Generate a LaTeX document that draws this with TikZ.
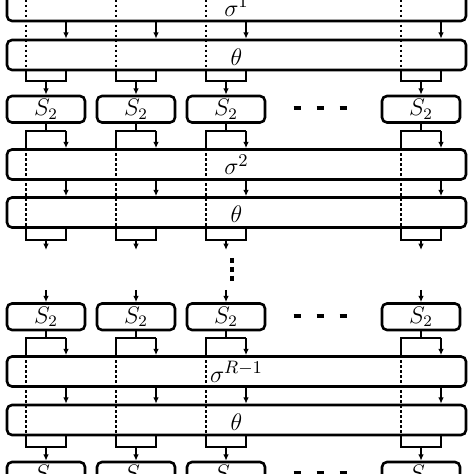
\documentclass[tikz,border=0pt]{standalone}
\usepackage{amsmath}
\usepackage{amssymb}
\usepackage{tikz}
\usepackage{xcolor}
\usetikzlibrary{arrows.meta}

\tikzset{
  bigbox/.style={draw, line width=1.3pt, rounded corners=2.5pt, inner sep=0pt,
    minimum width=229.5pt, minimum height=15pt, text height=10.5pt, text depth=0pt,
    font=\fontsize{12.5}{15}\selectfont},
  sbox/.style={draw, line width=1.3pt, rounded corners=2.5pt, inner sep=0pt,
    minimum width=39pt, minimum height=13.25pt, font=\fontsize{11.5}{13}\selectfont},
  conn/.style={line width=1.1pt},
  arr/.style={conn, -{Latex[length=3.2pt,width=2.8pt]}},
  dotline/.style={line width=1.3pt, dash pattern=on 1.2pt off 1.3pt},
  hdots/.style={line width=2pt, dash pattern=on 3.5pt off 8pt},
  vdots/.style={line width=1.75pt, dash pattern=on 2.5pt off 2pt}
}

\begin{document}
\begin{tikzpicture}[x=0.5pt,y=-0.5pt]
                \useasboundingbox (0,0) rectangle (474,474);
                \clip (0,0) rectangle (474,474);
                
                % Rounds
                \node[bigbox] (sig1) at (236.5,6) {$\sigma^1$};
                \node[bigbox] (th1) at (236.5,55) {$\theta$};
                \node[bigbox] (sig2) at (236.5,164.5) {$\sigma^2$};
                \node[bigbox] (th2) at (236.5,212.5) {$\theta$};
                \node[bigbox] (sig3) at (236.5,371.5) {$\sigma^{R-1}$};
                \node[bigbox] (th3) at (236.5,420) {$\theta$};
                
                % Rows of the connectors
                \coordinate (b1) at (0,81);
                \coordinate (c1) at (0,131);
                \coordinate (b2) at (0,240);
                \coordinate (o2) at (0,250);
                \coordinate (i2) at (0,290);
                \coordinate (c3) at (0,338);
                \coordinate (b3) at (0,447);
                
                % Columns
                \foreach \c/\n in {46/1,136/2,226/3,421/4} {
                  \coordinate (d\n) at (\c-20,0);
                  \coordinate (m\n) at (\c,0);
                  \coordinate (a\n) at (\c+20,0);
                  \node[sbox] (sa\n) at (\c,109.25) {$S_2$};
                  \node[sbox] (sb\n) at (\c,316.75) {$S_2$};
                  \node[sbox] (sc\n) at (\c,475.25) {$S_2$};
                  
                  % first round
                  \draw[dotline] (d\n |- sig1.north) -- (d\n |- th1.south);
                  \draw[arr] (a\n |- sig1.south) -- (a\n |- th1.north);
                  \draw[conn] (d\n |- th1.south) -- (d\n |- b1) -- (a\n |- b1) -- (a\n |- th1.south);
                  \draw[arr] (m\n |- b1) -- (sa\n.north);
                  \draw[conn] (sa\n.south) -- (m\n |- c1);
                  \draw[conn] (d\n |- sig2.north) -- (d\n |- c1) -- (a\n |- c1);
                  \draw[arr] (a\n |- c1) -- (a\n |- sig2.north);
                  
                  % second round
                  \draw[dotline] (d\n |- sig2.north) -- (d\n |- th2.south);
                  \draw[arr] (a\n |- sig2.south) -- (a\n |- th2.north);
                  \draw[conn] (d\n |- th2.south) -- (d\n |- b2) -- (a\n |- b2) -- (a\n |- th2.south);
                  \draw[arr] (m\n |- b2) -- (m\n |- o2);
                  \draw[arr] (m\n |- i2) -- (sb\n.north);
                  \draw[conn] (sb\n.south) -- (m\n |- c3);
                  \draw[conn] (d\n |- sig3.north) -- (d\n |- c3) -- (a\n |- c3);
                  \draw[arr] (a\n |- c3) -- (a\n |- sig3.north);
                  
                  % last round
                  \draw[dotline] (d\n |- sig3.north) -- (d\n |- th3.south);
                  \draw[arr] (a\n |- sig3.south) -- (a\n |- th3.north);
                  \draw[conn] (d\n |- th3.south) -- (d\n |- b3) -- (a\n |- b3) -- (a\n |- th3.south);
                  \draw[arr] (m\n |- b3) -- (sc\n.north);
                }
                
                % Dots
                \draw[hdots] (293.5,108) -- (347,108);
                \draw[hdots] (293.5,316) -- (347,316);
                \draw[hdots] (293.5,473) -- (347,473);
                \draw[vdots] (232,258) -- (232,281.5);
            \end{tikzpicture}
\end{document}
